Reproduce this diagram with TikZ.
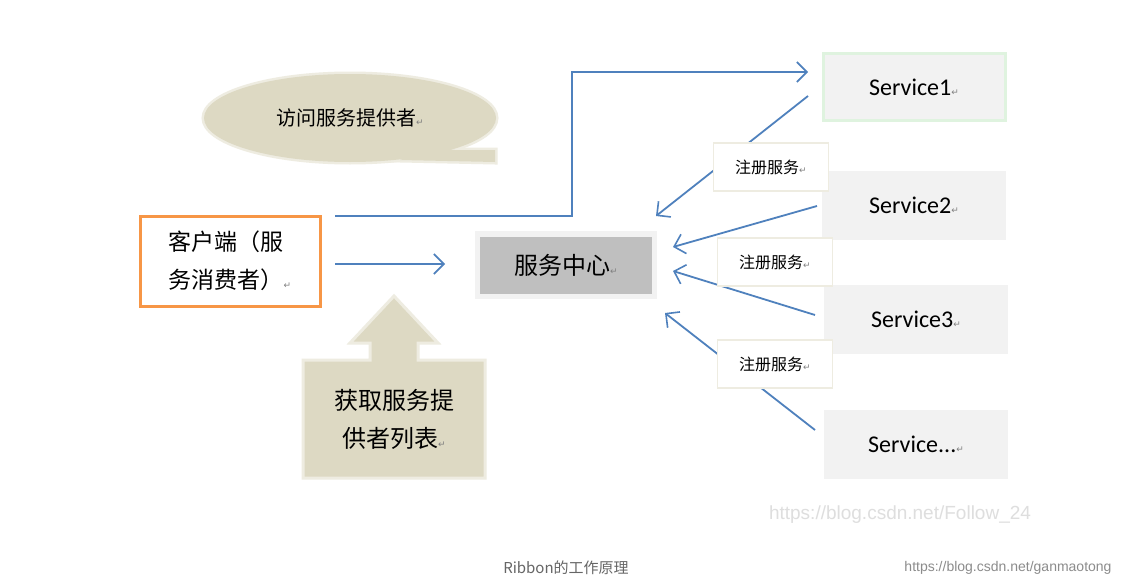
\documentclass[tikz,border=0pt]{standalone}
\usepackage{fontspec}
\setmainfont{Carlito}
\newfontfamily\cjk{Noto Sans CJK SC}
\newfontfamily\dv{DejaVu Sans}
\newfontfamily\lib{Liberation Sans}
\usetikzlibrary{arrows.meta,shapes.geometric}
\definecolor{tan}{HTML}{DDD9C3}
\definecolor{tanb}{HTML}{EEECE1}
\definecolor{ln}{HTML}{4F81BD}
\definecolor{org}{HTML}{F79646}
\definecolor{svc}{HTML}{F2F2F2}
\newcommand{\rt}{{\dv\fontsize{9}{9}\selectfont\color{gray}↵}}
\tikzset{
  conn/.style={draw=ln,line width=1.8pt,-{Straight Barb[length=10pt,width=20pt,line width=1.6pt]}},
  svcbox/.style={fill=svc,draw=svc,line width=2pt,minimum width=182pt,minimum height=67pt,font=\fontsize{24}{28}\selectfont},
  reg/.style={fill=white,draw=tanb,line width=1.5pt,minimum width=115pt,minimum height=48pt,font=\cjk\fontsize{16}{18}\selectfont},
}
\begin{document}
\begin{tikzpicture}[x=1pt,y=-1pt]
\useasboundingbox[fill=white] (0,0) rectangle (1129,586);
% callout
\draw[tanb,line width=5pt] (350,118) ellipse [x radius=146pt, y radius=44pt];
\draw[tanb,line width=5pt] (430,148) -- (455,150) -- (495,150) -- (495,162) -- (400,160) -- cycle;
\fill[tan] (350,118) ellipse [x radius=146pt, y radius=44pt];
\fill[tan] (430,148) -- (455,150) -- (495,150) -- (495,162) -- (400,160) -- cycle;
\node[font=\cjk\fontsize{20}{22}\selectfont] (calltxt) at (350,118) {访问服务提供者\rt};
% client
\node[draw=org,line width=3pt,fill=white,minimum width=180pt,minimum height=90pt,align=left,font=\cjk\fontsize{23}{38}\selectfont] (client) at (230,261) {客户端（服\\务消费者）\rt};
% center
\node[fill=svc,minimum width=182pt,minimum height=68pt] (centerout) at (566,265) {};
\node[fill=black!25,minimum width=172pt,minimum height=57pt,font=\cjk\fontsize{24}{26}\selectfont] (center) at (566,265) {服务中心\rt};
% up arrow block
\draw[tanb,line width=3pt,fill=tan] (303,360) -- (370,360) -- (370,343) -- (350,343) -- (394,296) -- (438,343) -- (418,343) -- (418,360) -- (485,360) -- (485,478) -- (303,478) -- cycle;
\node[align=center,font=\cjk\fontsize{24}{38}\selectfont] (get) at (394,419) {获取服务提\\供者列表\rt};
% services
\node[svcbox,draw=green!8!svc,line width=3pt] (s1) at (914,87) {Service1\rt};
\node[svcbox] (s2) at (914,205) {Service2\rt};
\node[svcbox] (s3) at (916,319) {Service3\rt};
\node[svcbox] (s4) at (916,444) {Service...\rt};
% connectors
\coordinate (c1) at (335,216);
\coordinate (c2) at (572,216);
\coordinate (c3) at (572,72);
\coordinate (c4) at (808,72);
\draw[conn] (c1) -- (c2) -- (c3) -- (c4);
\coordinate (a1) at (335,264);
\coordinate (a2) at (445,264);
\draw[conn] (a1) -- (a2);
\coordinate (r1s) at (808,96); \coordinate (r1e) at (656,216);
\coordinate (r2s) at (817,206); \coordinate (r2e) at (673,247);
\coordinate (r3s) at (815,315); \coordinate (r3e) at (673,271);
\coordinate (r4s) at (815,430); \coordinate (r4e) at (665,313);
\draw[conn] (r1s) -- (r1e);
\draw[conn] (r2s) -- (r2e);
\draw[conn] (r3s) -- (r3e);
\draw[conn] (r4s) -- (r4e);
\node[reg] (l1) at (771,167) {注册服务\rt};
\node[reg] (l2) at (775,262) {注册服务\rt};
\node[reg] (l3) at (775,364) {注册服务\rt};
% texts
\node[font=\lib\fontsize{19}{22}\selectfont,text=black!13] (wm) at (900,515) {https://blog.csdn.net/Follow\_24};
\node[font=\cjk\fontsize{15}{18}\selectfont,text=black!60] (cap) at (566,568) {Ribbon的工作原理};
\node[font=\lib\fontsize{14}{18}\selectfont,text=black!45] (url) at (1008,568) {https://blog.csdn.net/ganmaotong};
\end{tikzpicture}
\end{document}
